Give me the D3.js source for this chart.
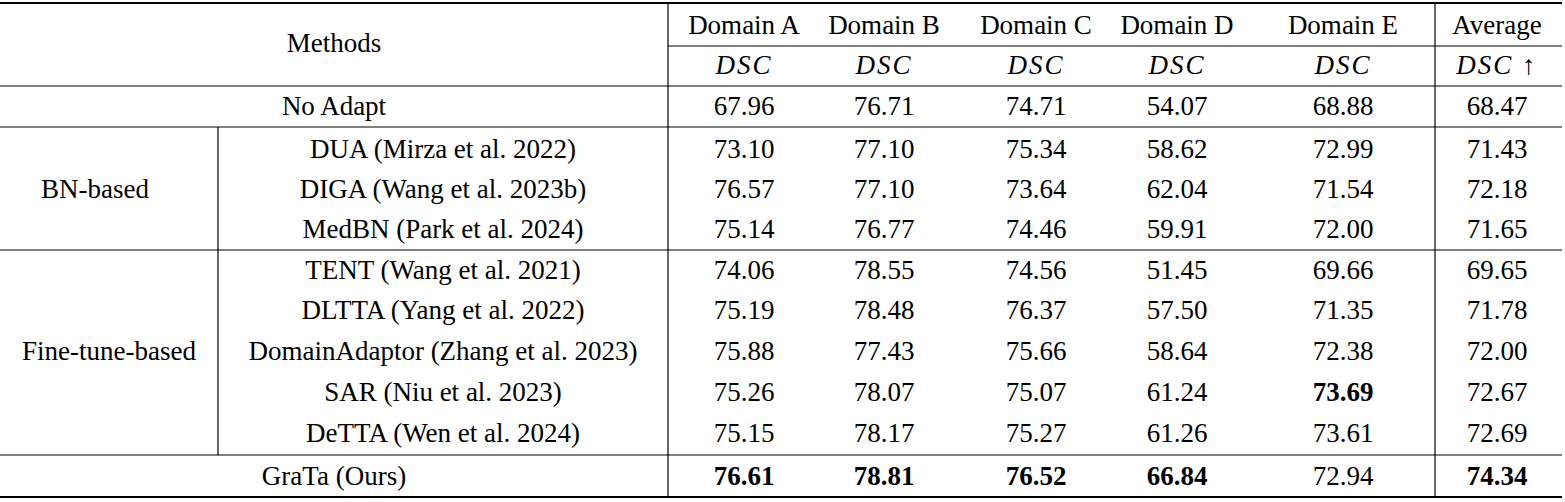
<!DOCTYPE html>
<html><head><meta charset="utf-8">
<script src="https://cdn.jsdelivr.net/npm/d3@7"></script>
<style>body{margin:0;background:#fff}</style>
</head><body><div id="chart"></div>
<script>
// table content
var domains = ["Domain A", "Domain B", "Domain C", "Domain D", "Domain E", "Average"];
var metrics = ["DSC", "DSC", "DSC", "DSC", "DSC", "DSC \u2191"];
var methods = ["No Adapt", "DUA (Mirza et al. 2022)", "DIGA (Wang et al. 2023b)", "MedBN (Park et al. 2024)",
  "TENT (Wang et al. 2021)", "DLTTA (Yang et al. 2022)", "DomainAdaptor (Zhang et al. 2023)",
  "SAR (Niu et al. 2023)", "DeTTA (Wen et al. 2024)", "GraTa (Ours)"];
var groups = [null, "BN-based", "BN-based", "BN-based", "Fine-tune-based", "Fine-tune-based",
  "Fine-tune-based", "Fine-tune-based", "Fine-tune-based", null];
var scores = [
  [67.96, 76.71, 74.71, 54.07, 68.88, 68.47],
  [73.10, 77.10, 75.34, 58.62, 72.99, 71.43],
  [76.57, 77.10, 73.64, 62.04, 71.54, 72.18],
  [75.14, 76.77, 74.46, 59.91, 72.00, 71.65],
  [74.06, 78.55, 74.56, 51.45, 69.66, 69.65],
  [75.19, 78.48, 76.37, 57.50, 71.35, 71.78],
  [75.88, 77.43, 75.66, 58.64, 72.38, 72.00],
  [75.26, 78.07, 75.07, 61.24, 73.69, 72.67],
  [75.15, 78.17, 75.27, 61.26, 73.61, 72.69],
  [76.61, 78.81, 76.52, 66.84, 72.94, 74.34]
];
// bold = best per column
var best = domains.map(function(d, j){ return d3.max(scores, function(r){ return r[j]; }); });

var W = 1565, H = 502;
var svg = d3.select("#chart").append("svg").attr("width", W).attr("height", H)
  .style("font-family", "'Liberation Serif','Times New Roman',serif").style("font-size", "27px");

var colX = d3.scaleOrdinal().domain(d3.range(6)).range([744, 884, 1036, 1177, 1343, 1497]);
var rowCenters = [106, 149, 189, 229, 270, 310, 351, 392, 433, 476];
var rowY = d3.scaleOrdinal().domain(d3.range(10)).range(rowCenters);

function line(x1, y1, x2, y2, w){
  svg.append("line").attr("x1", x1).attr("y1", y1).attr("x2", x2).attr("y2", y2)
    .attr("stroke", "#000").attr("stroke-width", w || 1.2);
}
function text(x, y, s, opts){
  var t = svg.append("text").attr("x", x).attr("y", y).attr("text-anchor", "middle")
    .attr("dominant-baseline", "central").text(s);
  if (opts && opts.bold) t.attr("font-weight", "bold");
  if (opts && opts.italic) t.attr("font-style", "italic").attr("letter-spacing", "2px");
  return t;
}

// rules
line(0, 3, 1562, 3, 2.2);
line(668, 46, 1562, 46);
line(0, 86, 1562, 86);
line(0, 127, 1562, 127);
line(0, 250, 1562, 250);
line(0, 455, 1562, 455);
line(0, 497, 1562, 497, 2.2);
line(668, 3, 668, 497);
line(1435, 3, 1435, 497);
line(218, 127, 218, 455);

// header
text(334, 43, "Methods");
domains.forEach(function(d, j){
  text(colX(j), 25, d);
  text(colX(j), 65, metrics[j], {italic: true});
});

// group labels
text(95, 189, "BN-based");
text(109, 351, "Fine-tune-based");

// rows
methods.forEach(function(m, i){
  var cx = groups[i] ? 443 : 334;
  text(cx, rowY(i), m);
  scores[i].forEach(function(v, j){
    text(colX(j), rowY(i), v.toFixed(2), {bold: v === best[j]});
  });
});
</script>
</body></html>
